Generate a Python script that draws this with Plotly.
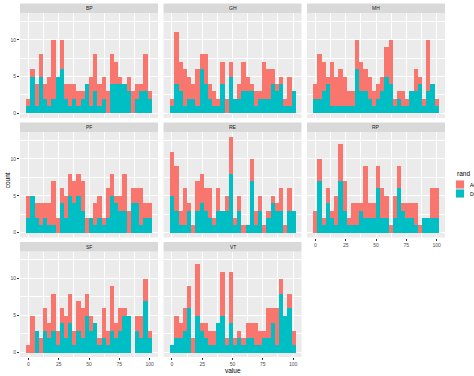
import plotly.graph_objects as go

W, H = 474, 376

# ---------------- data (counts per histogram bin, 30 bins over 0..100) ----------------
N_BINS = 30
BIN_W = 100 / (N_BINS - 1)
BIN_CENTERS = [i * BIN_W for i in range(N_BINS)]

PANELS = ["BP", "GH", "MH", "PF", "RE", "RP", "SF", "VT"]
LEVELS = ["Active", "Dummy"]          # legend labels (clipped at the right edge)
COLORS = ["#F8766D", "#00BFC4"]

# group A (red, stacked on top)
A_BP = [1,1,3,3,2,4,8,0,4,2,3,2,2,1,0,4,5,3,3,3,4,3,1,0,2,3,2,1,5,1]
A_GH = [1,7,4,5,3,2,5,2,4,2,2,1,3,2,2,0,2,4,2,1,2,1,5,4,2,1,1,1,4,0]
A_MH = [2,6,4,1,6,4,5,4,2,2,4,4,3,3,2,2,2,4,6,1,1,2,1,0,3,1,1,7,0,1]
A_PF = [3,0,2,3,2,3,6,2,2,3,3,3,3,4,2,0,3,3,1,4,3,1,2,5,3,2,2,5,2,2]
A_RE = [6,6,2,5,1,1,4,4,3,4,1,3,0,2,5,1,2,1,0,3,2,2,1,1,1,1,3,1,3,0]
A_RP = [3,3,1,2,1,4,5,4,1,3,3,1,7,2,2,3,4,3,1,3,3,1,2,2,3,1,0,0,4,4]
A_SF = [1,5,0,2,3,2,5,2,2,3,4,2,4,4,3,2,0,1,4,2,6,2,3,1,0,0,2,3,3,1]
A_VT = [0,3,2,3,3,2,7,1,2,2,2,0,6,1,7,1,1,1,2,2,3,2,1,4,2,5,2,0,2,2]

# group D (teal, bottom of stack)
D_BP = [1,5,1,5,2,1,2,5,6,2,1,2,1,2,4,1,3,1,2,0,4,4,4,4,3,0,2,3,3,2]
D_GH = [1,4,3,1,2,2,1,6,4,2,1,1,4,0,5,2,2,3,3,3,1,2,2,2,4,3,4,1,1,3]
D_MH = [2,2,3,4,1,1,1,1,1,1,6,3,3,2,1,2,3,5,4,1,2,1,1,3,3,4,1,3,4,1]
D_PF = [2,5,2,1,2,1,1,0,4,2,5,4,5,3,0,2,1,2,1,2,5,4,3,3,0,4,4,1,2,2]
D_RE = [5,3,1,1,3,0,3,4,3,2,1,3,3,3,8,1,3,0,1,7,1,3,0,2,4,3,3,0,3,3]
D_RP = [0,7,1,4,2,1,7,3,1,1,1,3,2,2,2,6,2,2,0,2,6,3,2,2,1,0,2,2,2,2]
D_SF = [0,0,3,0,3,2,3,1,4,2,4,1,3,2,5,3,4,1,2,1,3,2,3,5,5,0,3,2,7,2]
D_VT = [1,2,2,3,6,0,5,3,2,1,1,4,5,1,4,1,2,1,2,2,1,1,2,2,4,1,8,5,6,1]

A_DATA = [A_BP, A_GH, A_MH, A_PF, A_RE, A_RP, A_SF, A_VT]
D_DATA = [D_BP, D_GH, D_MH, D_PF, D_RE, D_RP, D_SF, D_VT]

X_TICKS = [0, 25, 50, 75, 100]
Y_TICKS = [0, 5, 10]

# ---------------- layout geometry (pixels) ----------------
COL_X = [(20, 158), (163.5, 301.5), (307, 445)]
ROW_Y = [(13, 118), (132, 237.5), (251.5, 357)]   # plot panel top/bottom
STRIP_H = 9.5

FONT = "Liberation Sans, Arial, sans-serif"

def px(x):
    return x / W

def py(y):
    return 1 - y / H

x_lo = -BIN_W / 2
x_hi = 100 + BIN_W / 2
x_pad = 0.05 * (x_hi - x_lo)
X_RANGE = [x_lo - x_pad, x_hi + x_pad]
y_max = max(max(a + d for a, d in zip(A, D)) for A, D in zip(A_DATA, D_DATA))
Y_RANGE = [-0.05 * y_max, y_max * 1.05]

fig = go.Figure()
shapes = []
annotations = []
layout = {}

for p, name in enumerate(PANELS):
    r, c = divmod(p, 3)
    n = p + 1
    xa = "x" if n == 1 else f"x{n}"
    ya = "y" if n == 1 else f"y{n}"
    for vals, lvl, col in ((D_DATA[p], LEVELS[1], COLORS[1]), (A_DATA[p], LEVELS[0], COLORS[0])):
        fig.add_trace(go.Bar(
            x=BIN_CENTERS, y=vals, width=BIN_W, name=lvl,
            marker=dict(color=col, line=dict(width=0)),
            xaxis=xa, yaxis=ya, showlegend=False, hoverinfo="skip",
        ))
    x0, x1 = COL_X[c]
    y0, y1 = ROW_Y[r]
    show_x = (p >= 5)
    show_y = (c == 0)
    layout["xaxis" if n == 1 else f"xaxis{n}"] = dict(
        domain=[px(x0), px(x1)], anchor=ya, range=X_RANGE,
        tickmode="array", tickvals=X_TICKS,
        showticklabels=show_x, ticks="outside" if show_x else "",
        ticklen=2, tickwidth=0.6, tickcolor="#333333",
        tickfont=dict(size=5, color="#4D4D4D", family=FONT),
        showgrid=True, gridcolor="white", gridwidth=0.9,
        minor=dict(dtick=12.5, tick0=0, showgrid=True, gridcolor="white", gridwidth=0.45, ticks=""),
        zeroline=False, showline=False, fixedrange=True,
    )
    layout["yaxis" if n == 1 else f"yaxis{n}"] = dict(
        domain=[py(y1), py(y0)], anchor=xa, range=Y_RANGE,
        tickmode="array", tickvals=Y_TICKS,
        showticklabels=show_y, ticks="outside" if show_y else "",
        ticklen=2, tickwidth=0.6, tickcolor="#333333",
        tickfont=dict(size=5, color="#4D4D4D", family=FONT),
        showgrid=True, gridcolor="white", gridwidth=0.9,
        minor=dict(dtick=2.5, tick0=0, showgrid=True, gridcolor="white", gridwidth=0.45, ticks=""),
        zeroline=False, showline=False, fixedrange=True,
    )
    # facet strip
    shapes.append(dict(type="rect", xref="paper", yref="paper",
                       x0=px(x0), x1=px(x1), y0=py(y0), y1=py(y0 - STRIP_H),
                       fillcolor="#D9D9D9", line=dict(width=0), layer="below"))
    annotations.append(dict(text=name, xref="paper", yref="paper",
                            x=px((x0 + x1) / 2), y=py(y0 - STRIP_H / 2),
                            showarrow=False, xanchor="center", yanchor="middle",
                            font=dict(size=5, color="#1A1A1A", family=FONT)))

# axis titles
annotations.append(dict(text="value", xref="paper", yref="paper",
                        x=px((COL_X[0][0] + COL_X[2][1]) / 2), y=py(370),
                        showarrow=False, xanchor="center", yanchor="middle",
                        font=dict(size=6.5, color="#000000", family=FONT)))
annotations.append(dict(text="count", xref="paper", yref="paper",
                        x=px(7), y=py((ROW_Y[0][0] - STRIP_H + ROW_Y[2][1]) / 2),
                        showarrow=False, xanchor="center", yanchor="middle", textangle=-90,
                        font=dict(size=6.5, color="#000000", family=FONT)))

# legend (drawn manually, ggplot style)
annotations.append(dict(text="rand", xref="paper", yref="paper",
                        x=px(455), y=py(173.5), showarrow=False,
                        xanchor="left", yanchor="middle",
                        font=dict(size=6.5, color="#000000", family=FONT)))
KEY_X0, KEY_X1 = 455.5, 464.5
KEY_TOP, KEY_H = 180, 9
for i, (lvl, col) in enumerate(zip(LEVELS, COLORS)):
    ky0 = KEY_TOP + i * KEY_H
    shapes.append(dict(type="rect", xref="paper", yref="paper",
                       x0=px(KEY_X0), x1=px(KEY_X1), y0=py(ky0 + KEY_H), y1=py(ky0),
                       fillcolor="#F2F2F2", line=dict(width=0)))
    shapes.append(dict(type="rect", xref="paper", yref="paper",
                       x0=px(KEY_X0 + 0.5), x1=px(KEY_X1 - 0.5),
                       y0=py(ky0 + KEY_H - 0.5), y1=py(ky0 + 0.5),
                       fillcolor=col, line=dict(width=0)))
    annotations.append(dict(text=lvl, xref="paper", yref="paper",
                            x=px(467.5), y=py(ky0 + KEY_H / 2), showarrow=False,
                            xanchor="left", yanchor="middle",
                            font=dict(size=5, color="#000000", family=FONT)))

fig.update_layout(
    width=W, height=H, margin=dict(l=0, r=0, t=0, b=0),
    paper_bgcolor="white", plot_bgcolor="#EBEBEB",
    barmode="stack", bargap=0, showlegend=False,
    shapes=shapes, annotations=annotations,
    font=dict(family=FONT),
    **layout,
)

fig.write_html("out.html", config={"displayModeBar": False},
               post_script="document.body.style.margin='0';")
